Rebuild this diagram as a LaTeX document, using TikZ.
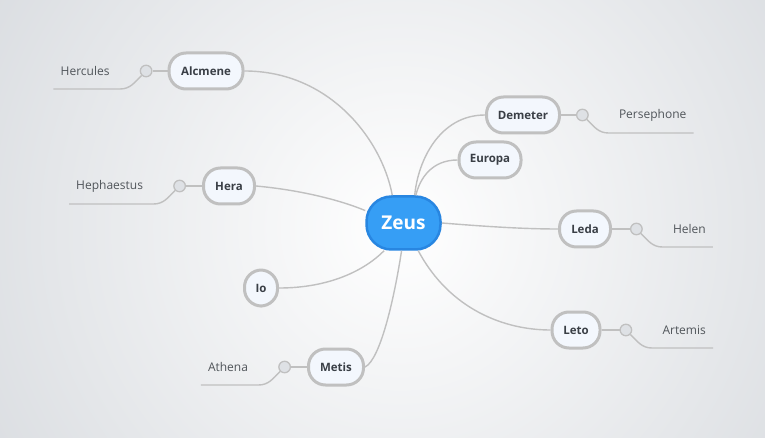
\documentclass[tikz,border=0pt]{standalone}
\usepackage{fontspec}
\setmainfont{Open Sans}
\usetikzlibrary{positioning, calc}
\definecolor{bgedge}{RGB}{218,221,225}
\definecolor{linegray}{RGB}{192,192,192}
\definecolor{nodefill}{RGB}{243,247,253}
\definecolor{knobfill}{RGB}{222,225,229}
\definecolor{zeusblue}{RGB}{54,158,245}
\definecolor{zeusedge}{RGB}{40,134,225}
\definecolor{textdark}{RGB}{58,63,70}
\definecolor{textgray}{RGB}{80,85,90}
\tikzset{
  king/.style={rectangle, minimum width=74pt, minimum height=53pt, align=center, draw=zeusedge, fill=zeusblue, text=white, font=\bfseries\fontsize{19}{22}\selectfont, rounded corners=25pt, line width=2.5pt},
  wife/.style={rectangle, minimum height=36pt, align=center, draw=linegray, fill=nodefill, text=textdark, font=\bfseries\fontsize{11.5}{13}\selectfont, rounded corners=17pt, line width=3pt, inner xsep=0pt},
  knob/.style={circle, minimum size=11.5pt, inner sep=0pt, draw=linegray, fill=knobfill, line width=1.3pt},
  child/.style={font=\fontsize{12}{14}\selectfont, text=textgray, inner sep=2pt},
  link/.style={draw=linegray, line width=1.4pt},
}

\begin{document}
\begin{tikzpicture}[x=1pt, y=-1pt]
\useasboundingbox (0,0) rectangle (765,438);
\begin{scope}
\clip (0,0) rectangle (765,438);
\fill[bgedge] (0,0) rectangle (765,438);
\shade[inner color=white, outer color=bgedge] (400,228) circle (480pt);
\end{scope}
% wives round zeus
\node (zeus)  [king] at (403.5,223) {Zeus};
\node (alc)   [wife, minimum width=74pt] at (206,71)  {Alcmene};
\node (hera)  [wife, minimum width=51pt] at (229,186) {Hera};
\node (io)    [wife, minimum width=33pt] at (261,288) {Io};
\node (metis) [wife, minimum width=55pt] at (336,367) {Metis};
\node (dem)   [wife, minimum width=73pt] at (523,115) {Demeter};
\node (eur)   [wife, minimum width=62pt] at (490,160) {Europa};
\node (leda)  [wife, minimum width=51pt] at (585,229) {Leda};
\node (leto)  [wife, minimum width=48pt] at (576,330) {Leto};
% children
\node (kAlc)   [knob, left=15pt of alc]    {};
\node (kHera)  [knob, left=16pt of hera]   {};
\node (kMetis) [knob, left=16pt of metis]  {};
\node (kDem)   [knob, right=15pt of dem]   {};
\node (kLeda)  [knob, right=18pt of leda]  {};
\node (kLeto)  [knob, right=18pt of leto]  {};
\node (herc)  [child, left=28pt of kAlc]   {Hercules};
\node (heph)  [child, left=28pt of kHera]  {Hephaestus};
\node (ath)   [child, left=28pt of kMetis] {Athena};
\node (pers)  [child, right=28pt of kDem]  {Persephone};
\node (helen) [child, right=28pt of kLeda] {Helen};
\node (art)   [child, right=28pt of kLeto] {Artemis};
% links
\draw[link] (alc.east) .. controls (330,71) and (382,140) .. (zeus.112);
\draw[link] (hera.east) .. controls (300,190) and (340,200) .. (zeus.162);
\draw[link] (io.east) .. controls (330,288) and (365,270) .. (zeus.235);
\draw[link] (metis.east) .. controls (380,360) and (394,300) .. (zeus.266);
\draw[link] (dem.west) .. controls (440,115) and (418,160) .. (zeus.68);
\draw[link] (eur.west) .. controls (432,160) and (420,178) .. (zeus.66);
\draw[link] (zeus.east) .. controls (480,226) and (520,229) .. (leda.west);
\draw[link] (zeus.298) .. controls (450,310) and (505,330) .. (leto.west);
\foreach \w/\k in {alc/kAlc, hera/kHera, metis/kMetis, dem/kDem, leda/kLeda, leto/kLeto}
  \draw[link] (\w) -- (\k);
\draw[link] (kAlc.south west) to[out=-135, in=0] ($(kAlc)+(-26,18)$) -- ($(herc.west)+(-5,18)$);
\draw[link] (kHera.south west) to[out=-135, in=0] ($(kHera)+(-26,18)$) -- ($(heph.west)+(-5,18)$);
\draw[link] (kMetis.south west) to[out=-135, in=0] ($(kMetis)+(-26,18)$) -- ($(ath.west)+(-5,18)$);
\draw[link] (kDem.south east) to[out=-45, in=180] ($(kDem)+(26,18)$) -- ($(pers.east)+(5,18)$);
\draw[link] (kLeda.south east) to[out=-45, in=180] ($(kLeda)+(26,18)$) -- ($(helen.east)+(5,18)$);
\draw[link] (kLeto.south east) to[out=-45, in=180] ($(kLeto)+(26,18)$) -- ($(art.east)+(5,18)$);
\end{tikzpicture}
\end{document}
